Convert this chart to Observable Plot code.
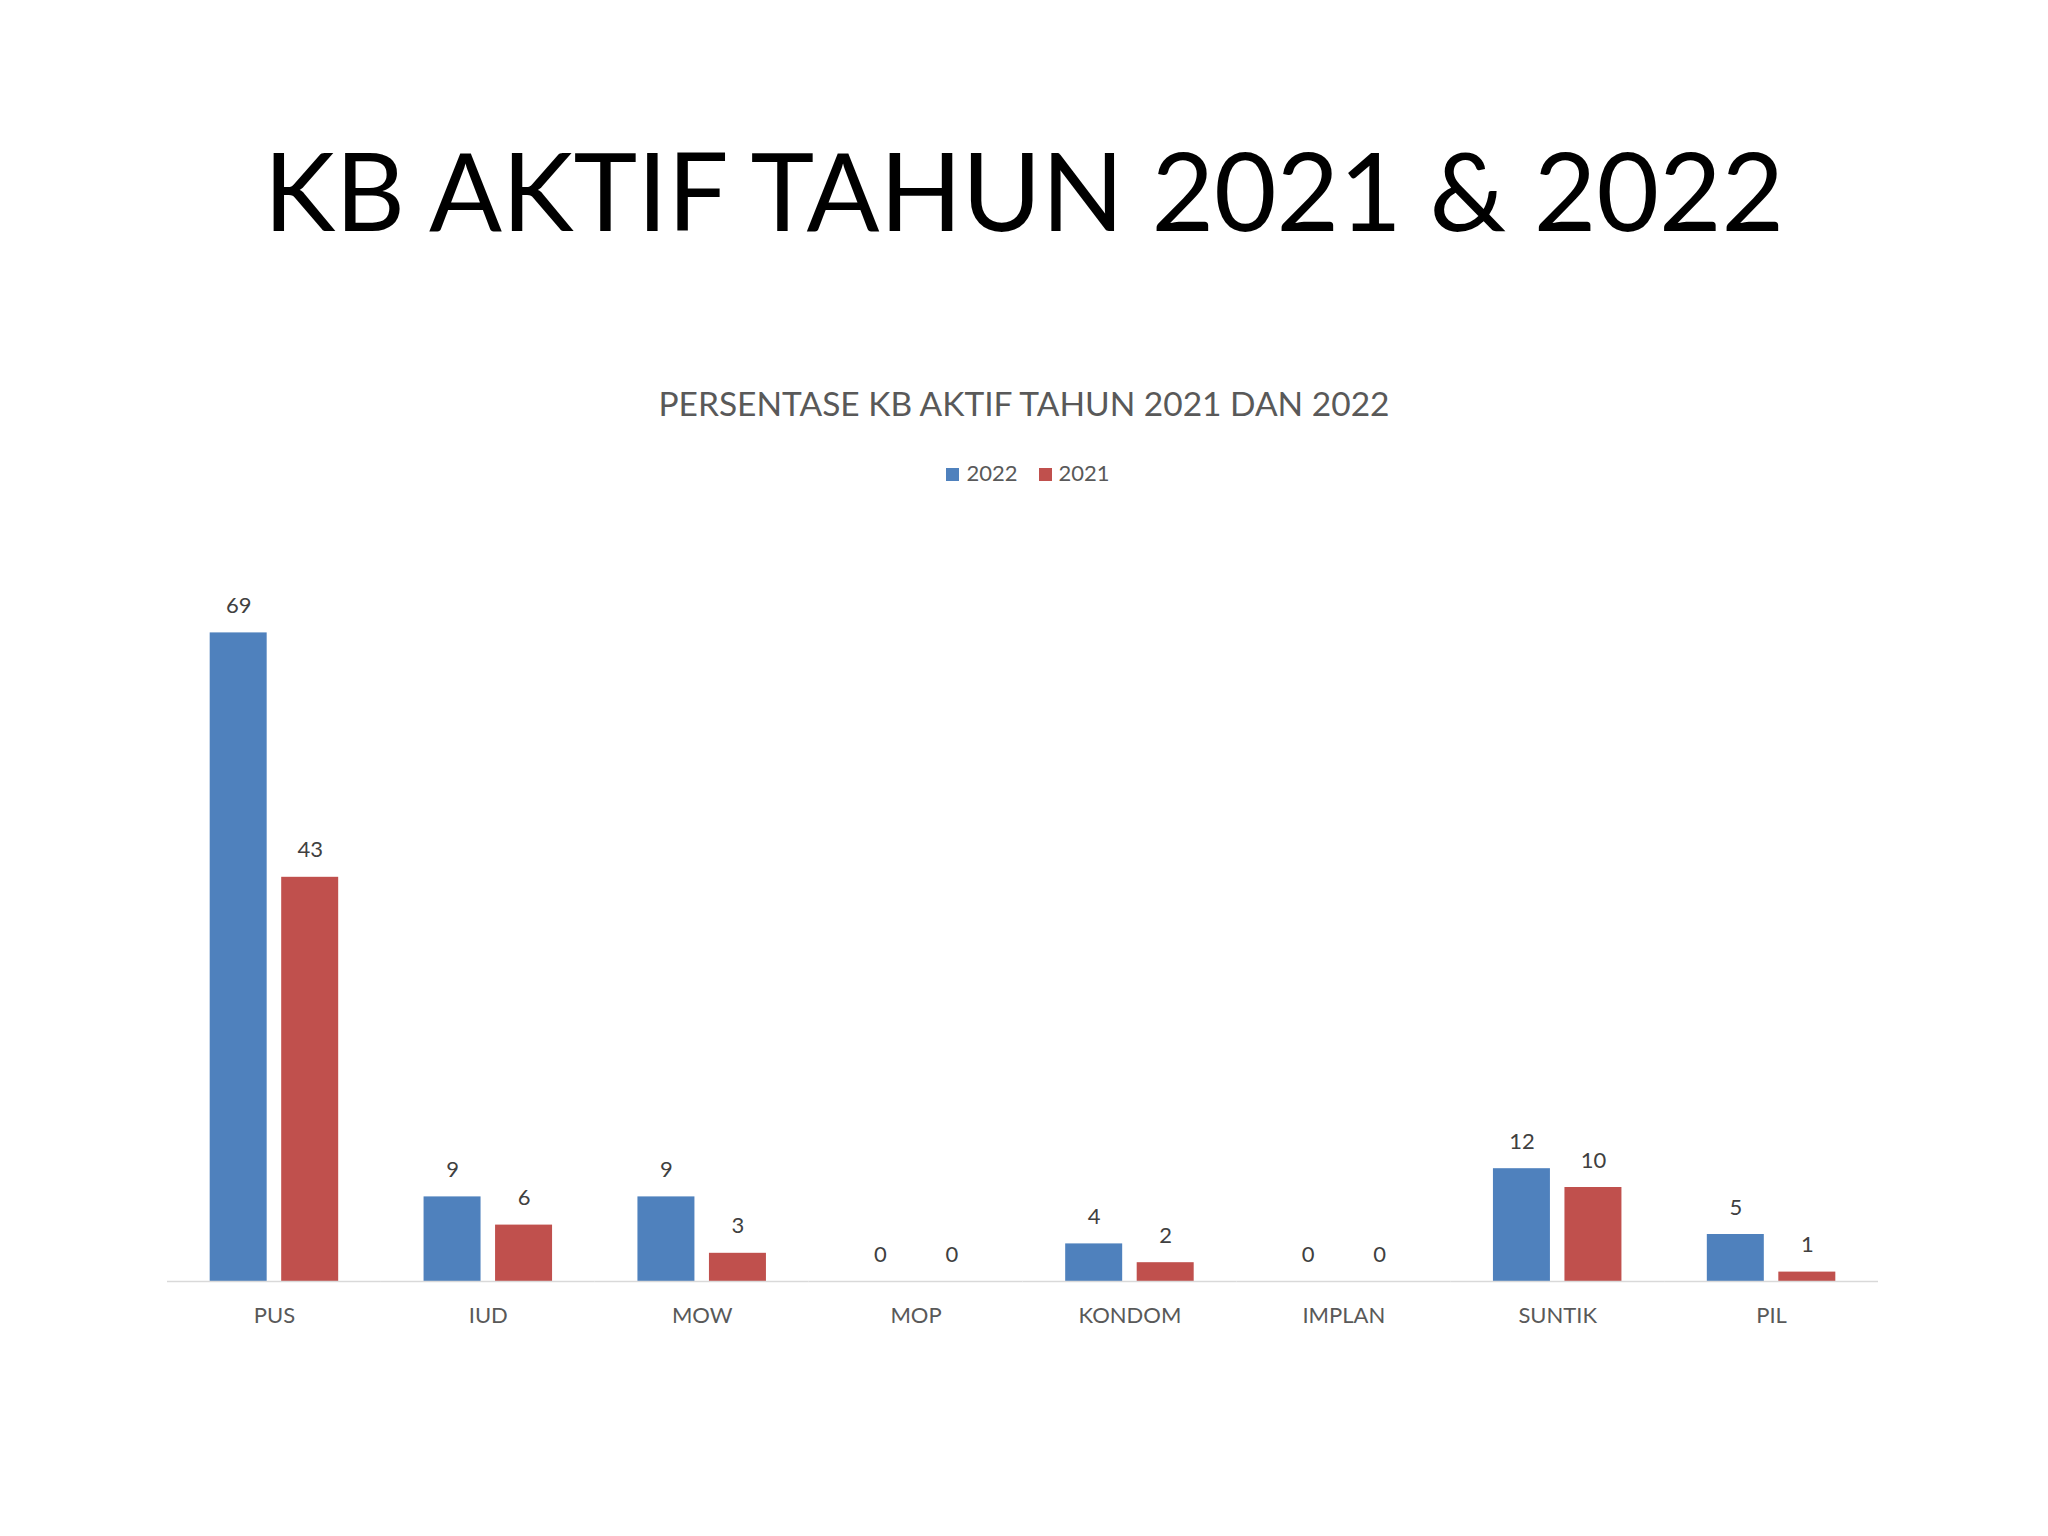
<!DOCTYPE html>
<html>
<head>
<meta charset="utf-8">
<script src="https://cdn.jsdelivr.net/npm/d3@7"></script>
<script src="https://cdn.jsdelivr.net/npm/@observablehq/plot@0.6"></script>
<style>
  html, body { margin: 0; padding: 0; background: #ffffff; }
  body { width: 2048px; height: 1536px; overflow: hidden; font-family: Lato, "Open Sans", sans-serif; }
  #header { position: relative; width: 2048px; height: 500px; }
  #title { position: absolute; left: 0; width: 2048px; top: 134px; text-align: center; font-size: 109px; line-height: 1; color: #000; white-space: nowrap; transform: scaleX(0.99); }
  #subtitle { position: absolute; left: 0; width: 2048px; top: 387px; text-align: center; font-size: 33.5px; line-height: 1; color: #595959; white-space: nowrap; }
  #legend { position: absolute; left: 4px; width: 2048px; top: 462px; display: flex; justify-content: center; gap: 21px; font-size: 22px; line-height: 1; color: #595959; }
  #legend span.item { display: inline-flex; align-items: center; gap: 7px; }
  #legend span.sw { display: inline-block; width: 13px; height: 13px; position: relative; top: 1px; }
  #chart { display: block; }
</style>
</head>
<body>
<div id="header">
  <div id="title"></div>
  <div id="subtitle"></div>
  <div id="legend"></div>
</div>
<div id="chart"></div>
<script>
const mainTitle = "KB AKTIF TAHUN 2021 & 2022";
const chartTitle = "PERSENTASE KB AKTIF TAHUN 2021 DAN 2022";
const categories = ["PUS", "IUD", "MOW", "MOP", "KONDOM", "IMPLAN", "SUNTIK", "PIL"];
const seriesNames = ["2022", "2021"];
const values2022 = [69, 9, 9, 0, 4, 0, 12, 5];
const values2021 = [43, 6, 3, 0, 2, 0, 10, 1];
const seriesColors = ["#4F81BD", "#C0504D"];

const data = [];
categories.forEach((c, i) => {
  data.push({cat: c, year: seriesNames[0], value: values2022[i]});
  data.push({cat: c, year: seriesNames[1], value: values2021[i]});
});

document.getElementById("title").textContent = mainTitle;
document.getElementById("subtitle").textContent = chartTitle;
const legend = document.getElementById("legend");
seriesNames.forEach((s, i) => {
  const item = document.createElement("span");
  item.className = "item";
  const sw = document.createElement("span");
  sw.className = "sw";
  sw.style.background = seriesColors[i];
  const t = document.createElement("span");
  t.textContent = s;
  item.appendChild(sw);
  item.appendChild(t);
  legend.appendChild(item);
});

const chart = Plot.plot({
  width: 2048,
  height: 1036,
  marginTop: 29,
  marginBottom: 255,
  marginLeft: 167,
  marginRight: 170,
  style: {fontFamily: "Lato, 'Open Sans', sans-serif", fontSize: "22px", color: "#595959", background: "transparent"},
  fx: {domain: categories, padding: 0, round: false, label: null},
  x: {domain: seriesNames, paddingInner: 0.203, paddingOuter: 0.597, round: false, axis: null},
  y: {domain: [0, 80], axis: null},
  color: {domain: seriesNames, range: seriesColors},
  marks: [
    Plot.barY(data, {fx: "cat", x: "year", y: "value", fill: "year"}),
    Plot.ruleY([0], {stroke: "#d9d9d9", strokeWidth: 1.5}),
    Plot.text(data, {fx: "cat", x: "year", y: "value", text: d => String(d.value), dy: -27, fill: "#404040", fontSize: 22}),
    Plot.axisFx({anchor: "bottom", tickSize: 0, tickPadding: 26, fontSize: 22, label: null})
  ]
});
document.getElementById("chart").appendChild(chart);
</script>
</body>
</html>
